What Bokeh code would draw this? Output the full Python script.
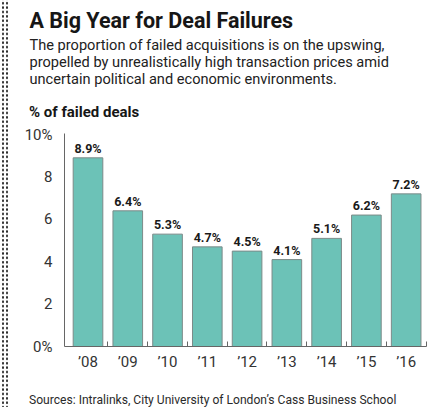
from bokeh.plotting import figure
from bokeh.models import ColumnDataSource, FixedTicker, LabelSet, Label
from bokeh.embed import file_html
from bokeh.resources import INLINE
from bokeh.core.properties import value

# ---- data ----
years = ["\u201908", "\u201909", "\u201910", "\u201911", "\u201912", "\u201913", "\u201914", "\u201915", "\u201916"]
failed_pct = [8.9, 6.4, 5.3, 4.7, 4.5, 4.1, 5.1, 6.2, 7.2]
y_ticks = [0, 2, 4, 6, 8, 10]
y_tick_labels = ["0%", "2", "4", "6", "8", "10%"]
title_text = "A Big Year for Deal Failures"
subtitle_lines = [
    "The proportion of failed acquisitions is on the upswing,",
    "propelled by unrealistically high transaction prices amid",
    "uncertain political and economic environments.",
]
axis_title = "% of failed deals"
source_text = "Sources: Intralinks, City University of London\u2019s Cass Business School"

# ---- layout geometry (canvas pixels) ----
W, H = 430, 407
X0PX, SX = 87.5, 39.77      # pixel of first bar centre, pixels per category
BASE_PX, SY = 346.0, 21.2   # pixel of 0 %, pixels per percentage point
AX_LEFT, AX_RIGHT, AX_TOP = 64, 426, 133


def xd(px):
    return (px - X0PX) / SX


def yd(py):
    return (BASE_PX - py) / SY


FONT = "Roboto"
TEAL = "#6cc2b7"

idx = list(range(len(years)))
src = ColumnDataSource(dict(
    x=idx,
    v=failed_pct,
    lab=[f"{v:.1f}%" for v in failed_pct],
))

p = figure(
    width=W, height=H,
    x_range=(xd(0), xd(W)), y_range=(yd(H), yd(0)),
    output_backend="svg", toolbar_location=None,
    min_border=0,
    margin=(0, 0, 0, 0),
)
p.title.text = ""
p.title.visible = False
p.xgrid.visible = False
p.ygrid.visible = False
p.outline_line_color = None
p.background_fill_color = None
p.border_fill_color = None
dot = "radial-gradient(circle at center, #2b2b2b 0, #2b2b2b 0.9px, rgba(255,255,255,0) 1.4px)"
p.styles = {
    "background-color": "white",
    "background-image": dot + ", " + dot,
    "background-size": "4.4px 4.4px, 4.4px 4.4px",
    "background-repeat": "repeat-y, repeat-y",
    "background-position": "0.5px 1px, 4.8px 1px",
}

p.vbar(x="x", top="v", width=0.745, source=src,
       fill_color=TEAL, line_color="#7c8a88", line_width=1)

p.add_layout(LabelSet(x="x", y="v", text="lab", source=src,
                      text_font=value(FONT), text_font_style="bold",
                      text_font_size="12.5px", text_color="#1a1a1a",
                      text_align="center", text_baseline="alphabetic",
                      y_offset=5))

xa = p.xaxis[0]
xa.fixed_location = 0
xa.bounds = (xd(AX_LEFT), xd(AX_RIGHT))
xa.ticker = FixedTicker(ticks=idx, minor_ticks=[i + 0.5 for i in idx])
xa.major_label_overrides = {i: y for i, y in zip(idx, years)}
xa.major_tick_line_color = None
xa.minor_tick_in = 5
xa.minor_tick_out = 0
xa.minor_tick_line_color = "#666666"
xa.axis_line_color = "#666666"
xa.major_label_text_font = FONT
xa.major_label_text_font_size = "15px"
xa.major_label_text_color = "#333333"
xa.major_label_standoff = 0

ya = p.yaxis[0]
ya.fixed_location = xd(AX_LEFT)
ya.bounds = (0, yd(AX_TOP))
ya.ticker = FixedTicker(ticks=y_ticks, minor_ticks=[])
ya.major_label_overrides = {t: s for t, s in zip(y_ticks, y_tick_labels)}
ya.major_tick_line_color = None
ya.minor_tick_line_color = None
ya.axis_line_color = "#666666"
ya.major_label_text_font = FONT
ya.major_label_text_font_size = "15px"
ya.major_label_text_color = "#333333"
ya.major_label_standoff = 6


def add_text(txt, px, py, size, bold=False, color="#1a1a1a"):
    p.add_layout(Label(x=xd(px), y=yd(py), text=txt, text_font=FONT,
                       text_font_size=size,
                       text_font_style="bold" if bold else "normal",
                       text_color=color, text_align="left",
                       text_baseline="alphabetic"))


add_text(title_text, 29, 19.5, "21.5px", bold=True, color="#161616")
for line, base in zip(subtitle_lines, [44.8, 61.6, 78.3]):
    add_text(line, 29, base, "14.6px", color="#222222")
add_text(axis_title, 28.5, 111.5, "15px", bold=True, color="#161616")
add_text(source_text, 28.5, 399.3, "12.1px", color="#2a2a2a")

open("out.html", "w").write(file_html(p, INLINE))
